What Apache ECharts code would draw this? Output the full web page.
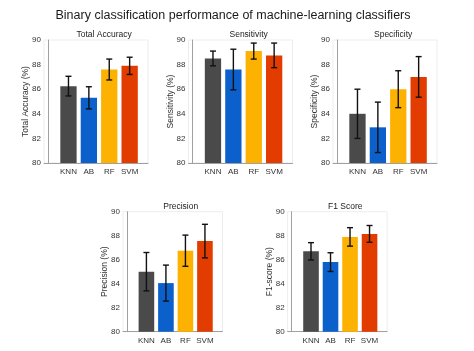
<!DOCTYPE html>
<html>
<head>
<meta charset="utf-8">
<script src="https://cdn.jsdelivr.net/npm/echarts@6/dist/echarts.min.js"></script>
<style>html,body{margin:0;padding:0;background:#fff;}#c{width:474px;height:351px;}</style>
</head>
<body>
<div id="c"></div>
<script>
const categories = ['KNN', 'AB', 'RF', 'SVM'];
const yTicks = [80, 82, 84, 86, 88, 90];
const barColors = ['#4a4a4a', '#0b60cc', '#fdb100', '#e23c00'];

const panelTitles = ['Total Accuracy', 'Sensitivity', 'Specificity', 'Precision', 'F1 Score'];
const axisNames = ['Total Accuracy (%)', 'Sensitivity (%)', 'Specificity (%)', 'Precision (%)', 'F1-score (%)'];

const accuracy = [86.25, 85.3, 87.6, 87.9];
const accuracyErr = [0.8, 0.9, 0.85, 0.7];
const sensitivity = [88.5, 87.6, 89.1, 88.75];
const sensitivityErr = [0.6, 1.65, 0.65, 1.0];
const specificity = [84.0, 82.9, 86.0, 87.0];
const specificityErr = [2.0, 2.05, 1.5, 1.65];
const precision = [85.0, 84.05, 86.75, 87.55];
const precisionErr = [1.6, 1.5, 1.3, 1.4];
const f1score = [86.7, 85.8, 87.9, 88.15];
const f1scoreErr = [0.72, 0.78, 0.77, 0.7];

const values = [accuracy, sensitivity, specificity, precision, f1score];
const errors = [accuracyErr, sensitivityErr, specificityErr, precisionErr, f1scoreErr];

const grids = [
  {left: 44, top: 40, width: 104, height: 123},
  {left: 188.5, top: 40, width: 104, height: 123},
  {left: 333, top: 40, width: 104, height: 123},
  {left: 123, top: 211.7, width: 99.5, height: 120},
  {left: 287.6, top: 211.7, width: 99.5, height: 120}
];
const barWidths = [16.3, 16.3, 16.3, 15.6, 15.6];
const FONT = 'Liberation Sans, Arial, Helvetica, sans-serif';

const chart = echarts.init(document.getElementById('c'), null, {renderer: 'canvas'});

const option = {
  backgroundColor: '#fff',
  animation: false,
  title: [{
    text: 'Binary classification performance of machine-learning classifiers',
    left: 228, top: 4, textAlign: 'center',
    textStyle: {fontFamily: FONT, fontSize: 12.5, fontWeight: 'normal', color: '#1a1a1a'}
  }].concat(panelTitles.map((t, i) => ({
    text: t,
    left: grids[i].left + grids[i].width * 0.53,
    top: grids[i].top - 14.5,
    textAlign: 'center',
    textStyle: {fontFamily: FONT, fontSize: 8.5, fontWeight: 'normal', color: '#222'}
  }))),
  grid: grids.map(g => Object.assign({
    show: true, borderColor: '#ededed', borderWidth: 1, backgroundColor: 'transparent'
  }, g)),
  xAxis: grids.map((g, i) => ({
    type: 'value', gridIndex: i, min: -0.2, max: 4.9,
    axisLine: {show: true, onZero: false, lineStyle: {color: '#a0a0a0', width: 1}},
    axisTick: {show: false},
    splitLine: {show: false},
    axisLabel: {
      customValues: [1, 2, 3, 4],
      formatter: v => categories[Math.round(v) - 1] || '',
      fontFamily: FONT, fontSize: 8, color: '#333', margin: 5
    }
  })),
  yAxis: grids.map((g, i) => ({
    type: 'value', gridIndex: i, min: 80, max: 90, interval: 2,
    name: axisNames[i], nameLocation: 'middle', nameGap: 13.5, nameMoveOverlap: false,
    nameTextStyle: {fontFamily: FONT, fontSize: 8.5, color: '#333'},
    axisLine: {show: true, lineStyle: {color: '#a0a0a0', width: 1}},
    axisTick: {show: false},
    splitLine: {show: false},
    axisLabel: {
      customValues: yTicks,
      fontFamily: FONT, fontSize: 8, color: '#333', margin: 3
    }
  })),
  series: []
};

values.forEach((vals, i) => {
  option.series.push({
    type: 'bar', xAxisIndex: i, yAxisIndex: i,
    barWidth: barWidths[i],
    data: vals.map((v, k) => ({value: [k + 1, v], itemStyle: {color: barColors[k]}})),
    silent: true
  });
  option.series.push({
    type: 'custom', xAxisIndex: i, yAxisIndex: i,
    data: vals.map((v, k) => [k + 1, v - errors[i][k], v + errors[i][k]]),
    renderItem: function (params, api) {
      const lo = api.coord([api.value(0), api.value(1)]);
      const hi = api.coord([api.value(0), api.value(2)]);
      const h = 3;
      const style = {stroke: '#111', lineWidth: 1.4};
      return {
        type: 'group',
        children: [
          {type: 'line', shape: {x1: lo[0], y1: lo[1], x2: hi[0], y2: hi[1]}, style: style},
          {type: 'line', shape: {x1: lo[0] - h, y1: lo[1], x2: lo[0] + h, y2: lo[1]}, style: style},
          {type: 'line', shape: {x1: hi[0] - h, y1: hi[1], x2: hi[0] + h, y2: hi[1]}, style: style}
        ]
      };
    },
    z: 5, silent: true
  });
});

chart.setOption(option);
</script>
</body>
</html>
